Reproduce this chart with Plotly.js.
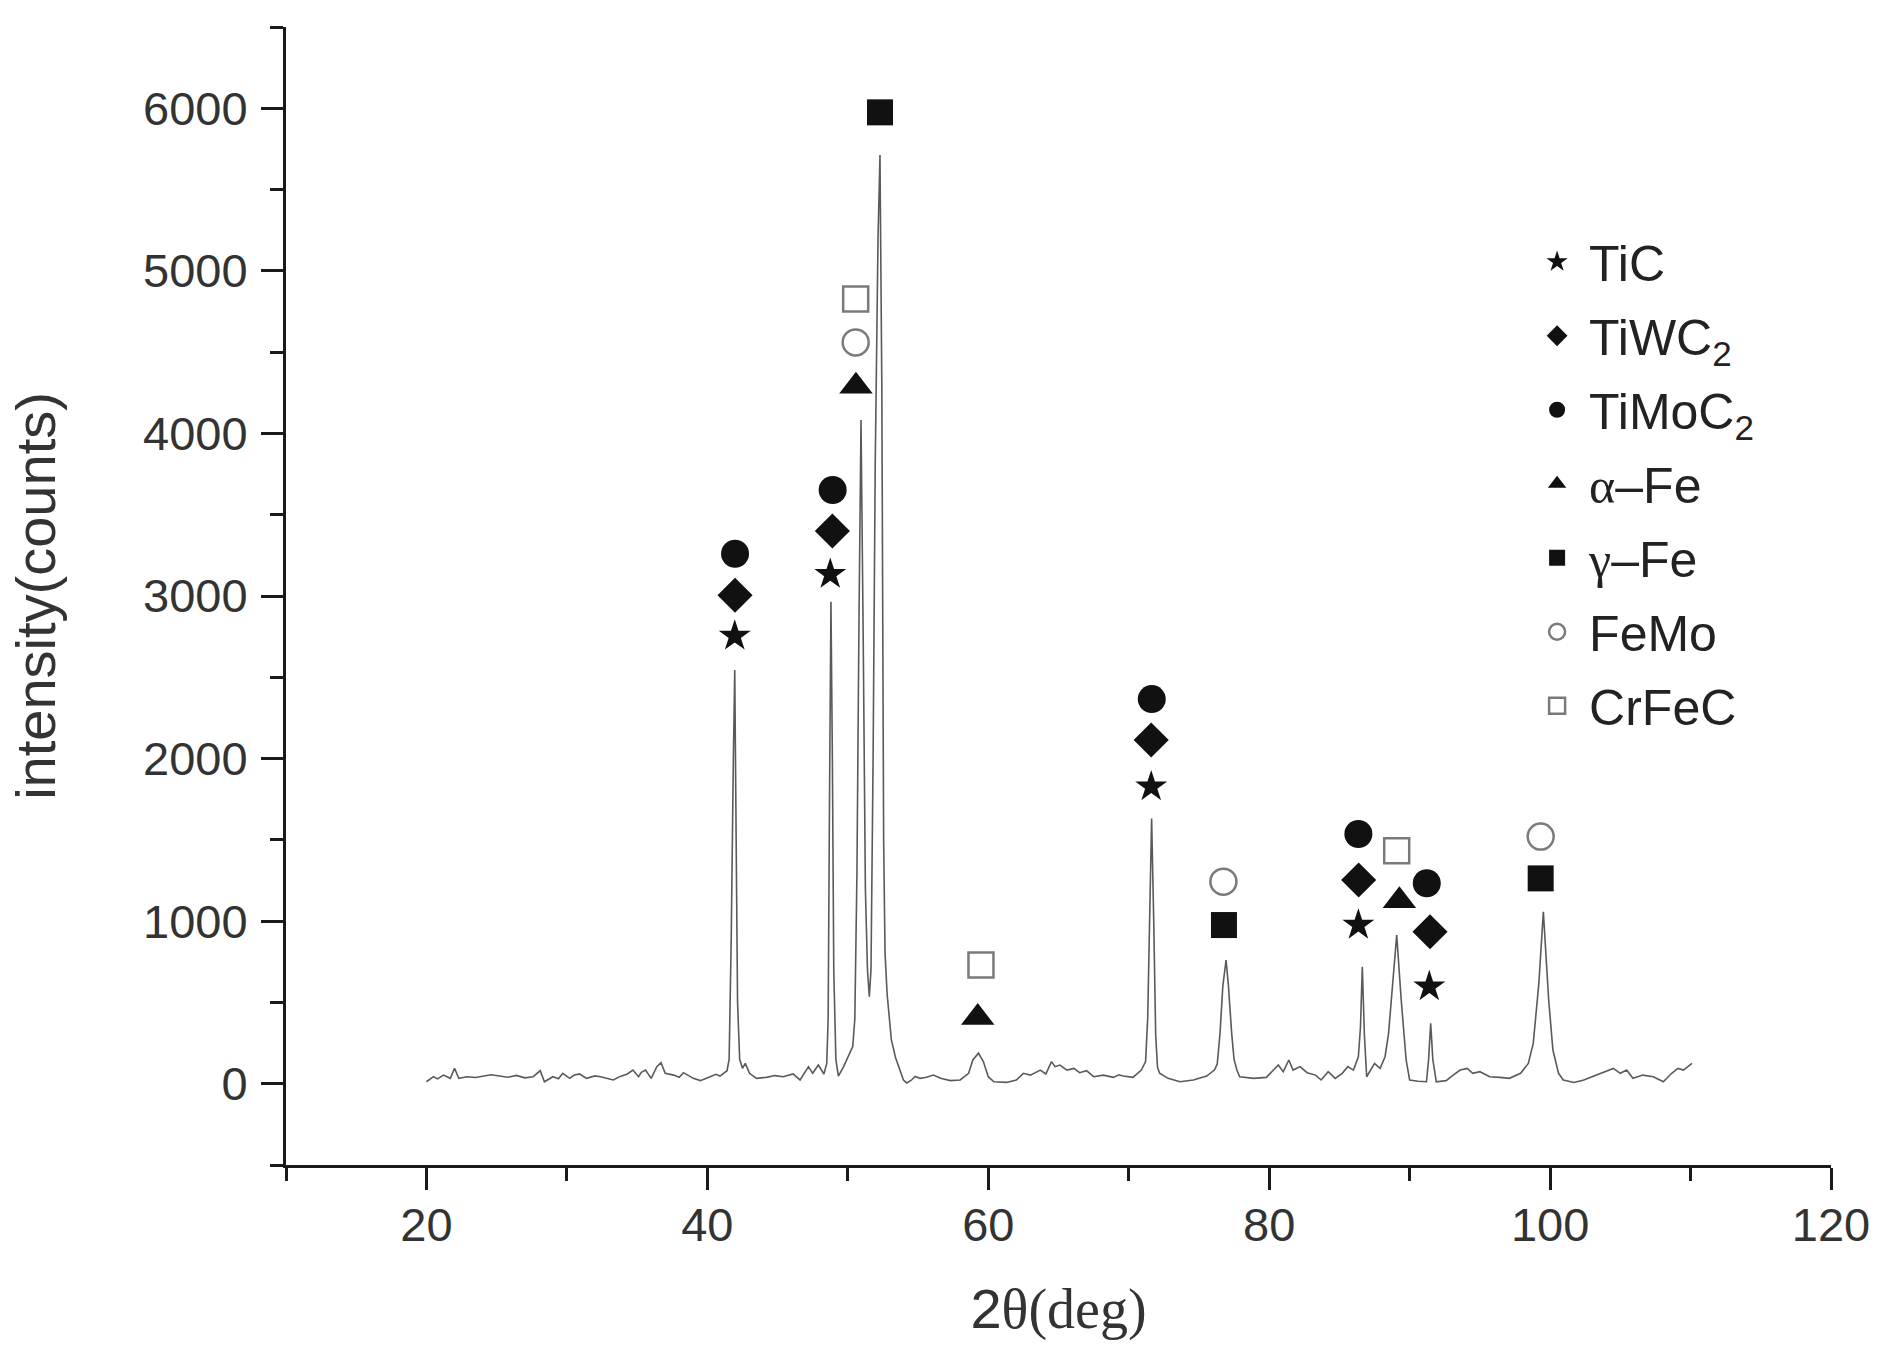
<!DOCTYPE html>
<html>
<head>
<meta charset="utf-8">
<script src="https://cdn.plot.ly/plotly-3.0.1.min.js"></script>
<style>html,body{margin:0;padding:0;background:#fff;}#chart{width:1891px;height:1367px;}</style>
</head>
<body>
<div id="chart"></div>
<script>
// XRD pattern: 2theta (deg) and intensity (counts)
const twoTheta = [20.0,20.5,20.8,21.2,21.7,22.0,22.3,22.9,23.5,24.1,24.6,25.2,25.8,26.4,27.0,27.6,28.1,28.4,29.0,29.4,29.7,30.2,30.5,30.9,31.4,32.0,32.4,33.3,33.8,34.3,34.7,35.1,35.3,35.6,36.0,36.4,36.7,37.0,37.6,38.0,38.3,39.0,39.5,40.2,40.6,40.9,41.4,41.55,41.7,41.85,41.95,42.05,42.15,42.3,42.5,42.7,43.0,43.5,44.2,44.8,45.4,46.1,46.6,47.2,47.5,47.9,48.3,48.5,48.6,48.7,48.8,48.9,49.0,49.15,49.33,49.7,50.0,50.35,50.5,50.65,50.8,50.94,51.1,51.25,51.4,51.53,51.65,51.8,51.95,52.15,52.29,52.42,52.55,52.65,52.8,52.95,53.1,53.4,53.7,53.96,54.2,54.5,54.8,55.14,55.6,56.1,56.6,57.3,58.0,58.6,58.9,59.3,59.65,60.0,60.4,61.3,62.0,62.5,63.0,63.4,63.7,64.1,64.5,64.75,65.1,65.6,66.1,66.5,67.0,67.5,68.2,68.9,69.3,69.6,70.3,70.9,71.2,71.35,71.5,71.63,71.78,71.92,72.05,72.2,72.8,73.65,74.6,75.55,76.1,76.3,76.5,76.7,76.93,77.1,77.33,77.5,77.7,77.9,78.9,79.8,80.3,80.65,81.0,81.4,81.7,82.2,82.7,83.3,83.7,84.2,84.7,85.2,85.6,86.0,86.35,86.5,86.63,86.78,86.94,87.2,87.5,87.9,88.25,88.5,88.8,89.08,89.4,89.75,90.0,90.6,91.2,91.35,91.5,91.65,91.9,92.6,93.1,93.6,94.1,94.5,95.0,95.7,96.4,97.1,97.9,98.45,98.8,99.2,99.52,99.9,100.2,100.6,100.94,101.7,102.4,103.1,103.8,104.5,105.0,105.45,105.9,106.6,107.35,108.06,108.66,109.1,109.5,110.1];
const counts = [12,43,30,53,33,95,33,43,38,47,55,47,40,51,36,43,80,12,43,30,64,33,52,60,33,48,43,23,45,60,84,43,70,84,33,105,129,64,53,40,68,33,19,43,58,47,80,150,900,2000,2545,1500,500,150,95,125,64,33,39,50,43,60,23,105,64,115,60,125,400,1800,2965,2000,700,150,47,105,166,228,400,1300,2900,4083,2700,1200,700,535,700,2000,3800,5200,5713,4300,1500,800,550,390,270,160,80,23,5,20,45,33,40,53,33,19,23,64,146,188,136,43,12,8,23,64,53,70,84,60,136,105,115,84,94,68,80,43,53,39,55,47,39,84,136,400,1200,1632,1000,300,100,64,33,12,23,47,84,120,310,600,761,600,310,150,84,43,33,39,84,115,74,146,84,105,68,53,23,74,33,64,105,84,166,350,720,300,43,84,125,94,166,310,617,915,515,146,23,15,12,150,371,150,12,19,53,84,94,64,74,43,39,33,64,125,248,617,1058,515,207,64,23,8,23,47,74,94,64,84,33,53,43,12,64,94,84,125];

// Phase identification marks (peak labels)
const phaseNames = ['TiC','TiWC<sub>2</sub>','TiMoC<sub>2</sub>',
  '<span style="font-family:Liberation Serif">α</span>–Fe',
  '<span style="font-family:Liberation Serif">γ</span>–Fe','FeMo','CrFeC'];
const ticX = [41.95,48.75,71.6,86.35,91.4];
const ticY = [2754,3134,1827,976,597];
const tiwcX = [41.97,48.9,71.6,86.37,91.45];
const tiwcY = [3005,3400,2114,1253,935];
const timocX = [41.97,48.92,71.64,86.35,91.22];
const timocY = [3260,3652,2366,1536,1233];
const alphaFeX = [50.58,59.25,89.27];
const alphaFeY = [4290,407,1125];
const gammaFeX = [52.29,76.78,99.33];
const gammaFeY = [5975,976,1263];
const feMoX = [50.56,76.74,99.33];
const feMoY = [4560,1243,1520];
const crFeCX = [50.56,59.48,89.08];
const crFeCY = [4827,730,1433];

const xTickVals = [20,40,60,80,100,120];
const yTickVals = [0,1000,2000,3000,4000,5000,6000];

const black = '#111111';
const grey = '#7a7a7a';

function phase(name, xs, ys, symbol, size, color, open, i) {
  return {
    x: xs, y: ys, type: 'scatter', mode: 'markers', name: name,
    legendgroup: 'g' + i, cliponaxis: false,
    marker: open
      ? {symbol: symbol, size: size, color: color, line: {color: color, width: 2.5}}
      : {symbol: symbol, size: size, color: color, line: {width: 0}},
    hoverinfo: 'x+y+name'
  };
}

const traces = [
  {x: twoTheta, y: counts, type: 'scatter', mode: 'lines', showlegend: false,
   line: {color: '#5a5a5a', width: 1.6}, hoverinfo: 'x+y'},
  phase(phaseNames[0], ticX, ticY, 'star', 24, black, false, 0),
  phase(phaseNames[1], tiwcX, tiwcY, 'diamond', 27, black, false, 1),
  phase(phaseNames[2], timocX, timocY, 'circle', 28, black, false, 2),
  phase(phaseNames[3], alphaFeX, alphaFeY, 'triangle-up', 29, black, false, 3),
  phase(phaseNames[4], gammaFeX, gammaFeY, 'square', 26, black, false, 4),
  phase(phaseNames[5], feMoX, feMoY, 'circle-open', 26, grey, true, 5),
  phase(phaseNames[6], crFeCX, crFeCY, 'square-open', 25, grey, true, 6)
];

const axisCommon = {
  showline: true, linewidth: 3, linecolor: '#1a1a1a', mirror: false,
  showgrid: false, zeroline: false,
  ticks: 'outside', ticklen: 22, tickwidth: 3, tickcolor: '#1a1a1a',
  tickfont: {family: 'Liberation Sans, Arial, sans-serif', size: 47, color: '#333333'}
};

const layout = {
  width: 1891, height: 1367,
  paper_bgcolor: '#ffffff', plot_bgcolor: '#ffffff',
  margin: {l: 286, r: 60, t: 27, b: 202, pad: 0},
  font: {family: 'Liberation Sans, Arial, sans-serif', color: '#333333'},
  xaxis: Object.assign({}, axisCommon, {
    range: [10, 120], tickmode: 'array', tickvals: xTickVals,
    ticklabelstandoff: -5,
    minor: {dtick: 10, tick0: 0, ticks: 'outside', ticklen: 13, tickwidth: 3, tickcolor: '#1a1a1a', showgrid: false},
    title: {text: '2<span style="font-family:Liberation Serif">θ(deg)</span>',
            font: {size: 56, color: '#333333', family: 'Liberation Sans, Arial, sans-serif'}, standoff: 39}
  }),
  yaxis: Object.assign({}, axisCommon, {
    range: [-500, 6500], tickmode: 'array', tickvals: yTickVals,
    ticklabelstandoff: 4,
    minor: {dtick: 500, tick0: 0, ticks: 'outside', ticklen: 13, tickwidth: 3, tickcolor: '#1a1a1a', showgrid: false},
    title: {text: 'intensity(counts)', font: {size: 56, color: '#333333'}, standoff: 70}
  }),
  showlegend: true,
  legend: {
    x: 0.802, xanchor: 'left', y: 0.828, yanchor: 'top',
    bgcolor: 'rgba(0,0,0,0)', borderwidth: 0,
    font: {family: 'Liberation Sans, Arial, sans-serif', size: 50, color: '#222222'},
    tracegroupgap: 6, itemwidth: 54
  }
};

Plotly.newPlot('chart', traces, layout, {displayModeBar: false, staticPlot: true});
</script>
</body>
</html>
